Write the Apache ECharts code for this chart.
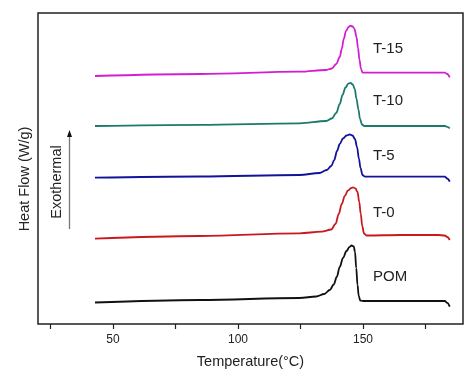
<!DOCTYPE html>
<html><head><meta charset="utf-8">
<script src="https://cdn.jsdelivr.net/npm/echarts@6/dist/echarts.min.js"></script>
<style>html,body{margin:0;padding:0;background:#fff}#c{width:474px;height:384px}</style>
</head><body><div id="c"></div>
<script>
const seriesNames = ['POM', 'T-0', 'T-5', 'T-10', 'T-15'];
const seriesColors = ['#111111', '#c8191e', '#12129a', '#1c7a6c', '#d21ed2'];
const majorTicks = [50, 100, 150];
const minorTicks = [25, 50, 75, 100, 125, 150, 175];

// [temperature (°C), heat flow (arbitrary offset units)]
const pom = [[42.8,2.15],[84.6,2.4],[124.6,2.6],[131.3,2.75],[134.5,3.0],[136.7,3.4],[138.3,3.95],[139.5,4.7],[140.7,5.7],[142.0,6.6],[143.4,7.3],[144.6,7.7],[145.4,7.85],[146.3,7.75],[146.8,7.2],[147.3,5.6],[147.8,3.9],[148.3,2.8],[148.9,2.35],[150.0,2.3],[182.7,2.3],[183.7,2.12],[184.7,1.73]];
const t0 = [[42.8,8.53],[84.6,8.8],[124.6,9.07],[133.5,9.23],[137.3,9.45],[139.0,10.0],[140.3,11.0],[141.5,12.0],[142.7,12.8],[144.0,13.35],[145.3,13.6],[146.0,13.67],[147.0,13.55],[147.8,13.2],[148.5,12.2],[149.1,11.0],[149.7,9.8],[150.4,9.05],[151.4,8.85],[165,8.9],[180,8.9],[182.7,8.85],[183.7,8.7],[184.7,8.4]];
const t5 = [[42.8,14.63],[84.6,14.75],[124.6,14.9],[132.6,15.1],[135.5,15.4],[137.3,15.8],[138.5,16.4],[139.6,17.3],[140.7,18.0],[142.0,18.55],[143.4,18.85],[144.7,18.95],[145.8,18.85],[146.8,18.5],[147.6,17.7],[148.4,16.5],[149.0,15.6],[149.8,14.9],[150.8,14.73],[182.7,14.73],[183.7,14.55],[184.7,14.23]];
const t10 = [[42.8,19.8],[84.6,19.92],[124.6,20.07],[135.3,20.3],[137.5,20.55],[139.3,21.1],[140.7,22.0],[141.8,22.9],[143.0,23.65],[144.2,24.05],[145.0,24.1],[145.9,23.95],[146.7,23.5],[147.4,22.5],[148.2,21.4],[148.8,20.5],[149.6,19.95],[150.5,19.8],[182.7,19.8],[183.7,19.72],[184.7,19.57]];
const t15 = [[42.8,24.8],[84.6,25.0],[124.6,25.23],[135.3,25.4],[137.5,25.55],[139.3,26.0],[140.7,26.7],[141.5,27.5],[142.3,28.5],[143.2,29.3],[144.2,29.7],[145.0,29.83],[145.9,29.75],[146.6,29.5],[147.4,28.7],[148.0,27.6],[148.6,26.4],[149.2,25.5],[149.8,25.15],[151.4,25.13],[182.7,25.13],[183.7,25.0],[184.7,24.67]];
const allData = [pom, t0, t5, t10, t15];
// label anchor: [temperature, heat flow]
const labelAnchors = [[154, 4.7], [154, 11.1], [154, 16.8], [154, 22.3], [154, 27.5]];

const FONT = 'Liberation Sans, Arial, Helvetica, sans-serif';
const chart = echarts.init(document.getElementById('c'), null, {renderer: 'canvas'});
chart.setOption({
  animation: false,
  backgroundColor: '#fff',
  grid: {left: 38, right: 11, top: 13, bottom: 60, show: true, borderColor: '#222', borderWidth: 1.5, backgroundColor: 'transparent'},
  xAxis: {
    type: 'value', min: 20, max: 190,
    axisLine: {show: false},
    axisTick: {show: true, inside: false, length: 5, customValues: minorTicks, lineStyle: {color: '#222', width: 1.2}},
    axisLabel: {customValues: majorTicks, margin: 10, fontSize: 12, color: '#222', fontFamily: FONT},
    splitLine: {show: false},
    name: 'Temperature(°C)', nameLocation: 'middle', nameGap: 30,
    nameTextStyle: {fontSize: 14.5, color: '#222', fontFamily: FONT}
  },
  yAxis: {
    type: 'value', min: 0, max: 31.1,
    axisLine: {show: false}, axisTick: {show: false}, axisLabel: {show: false}, splitLine: {show: false}
  },
  series: allData.map((d, i) => ({
    name: seriesNames[i], type: 'line', data: d,
    showSymbol: false, smooth: 0.35, smoothMonotone: 'x',
    lineStyle: {color: seriesColors[i], width: 1.8},
    itemStyle: {color: seriesColors[i]}
  }))
});

const g = [];
labelAnchors.forEach((a, i) => {
  const p = chart.convertToPixel({gridIndex: 0}, a);
  g.push({type: 'text', x: p[0], y: p[1], style: {text: seriesNames[i], fill: '#222', font: '15px ' + FONT, textAlign: 'left', textVerticalAlign: 'middle'}});
});
g.push({type: 'text', x: 25, y: 179, rotation: Math.PI / 2, style: {text: 'Heat Flow (W/g)', fill: '#222', font: '14.5px ' + FONT, textAlign: 'center', textVerticalAlign: 'middle'}});
g.push({type: 'text', x: 57, y: 182, rotation: Math.PI / 2, style: {text: 'Exothermal', fill: '#222', font: '14.5px ' + FONT, textAlign: 'center', textVerticalAlign: 'middle'}});
g.push({type: 'line', shape: {x1: 69.5, y1: 229, x2: 69.5, y2: 136}, style: {stroke: '#777', lineWidth: 1.3}});
g.push({type: 'polygon', shape: {points: [[69.5, 130], [67, 137], [72, 137]]}, style: {fill: '#111'}});
chart.setOption({graphic: g});
</script></body></html>
